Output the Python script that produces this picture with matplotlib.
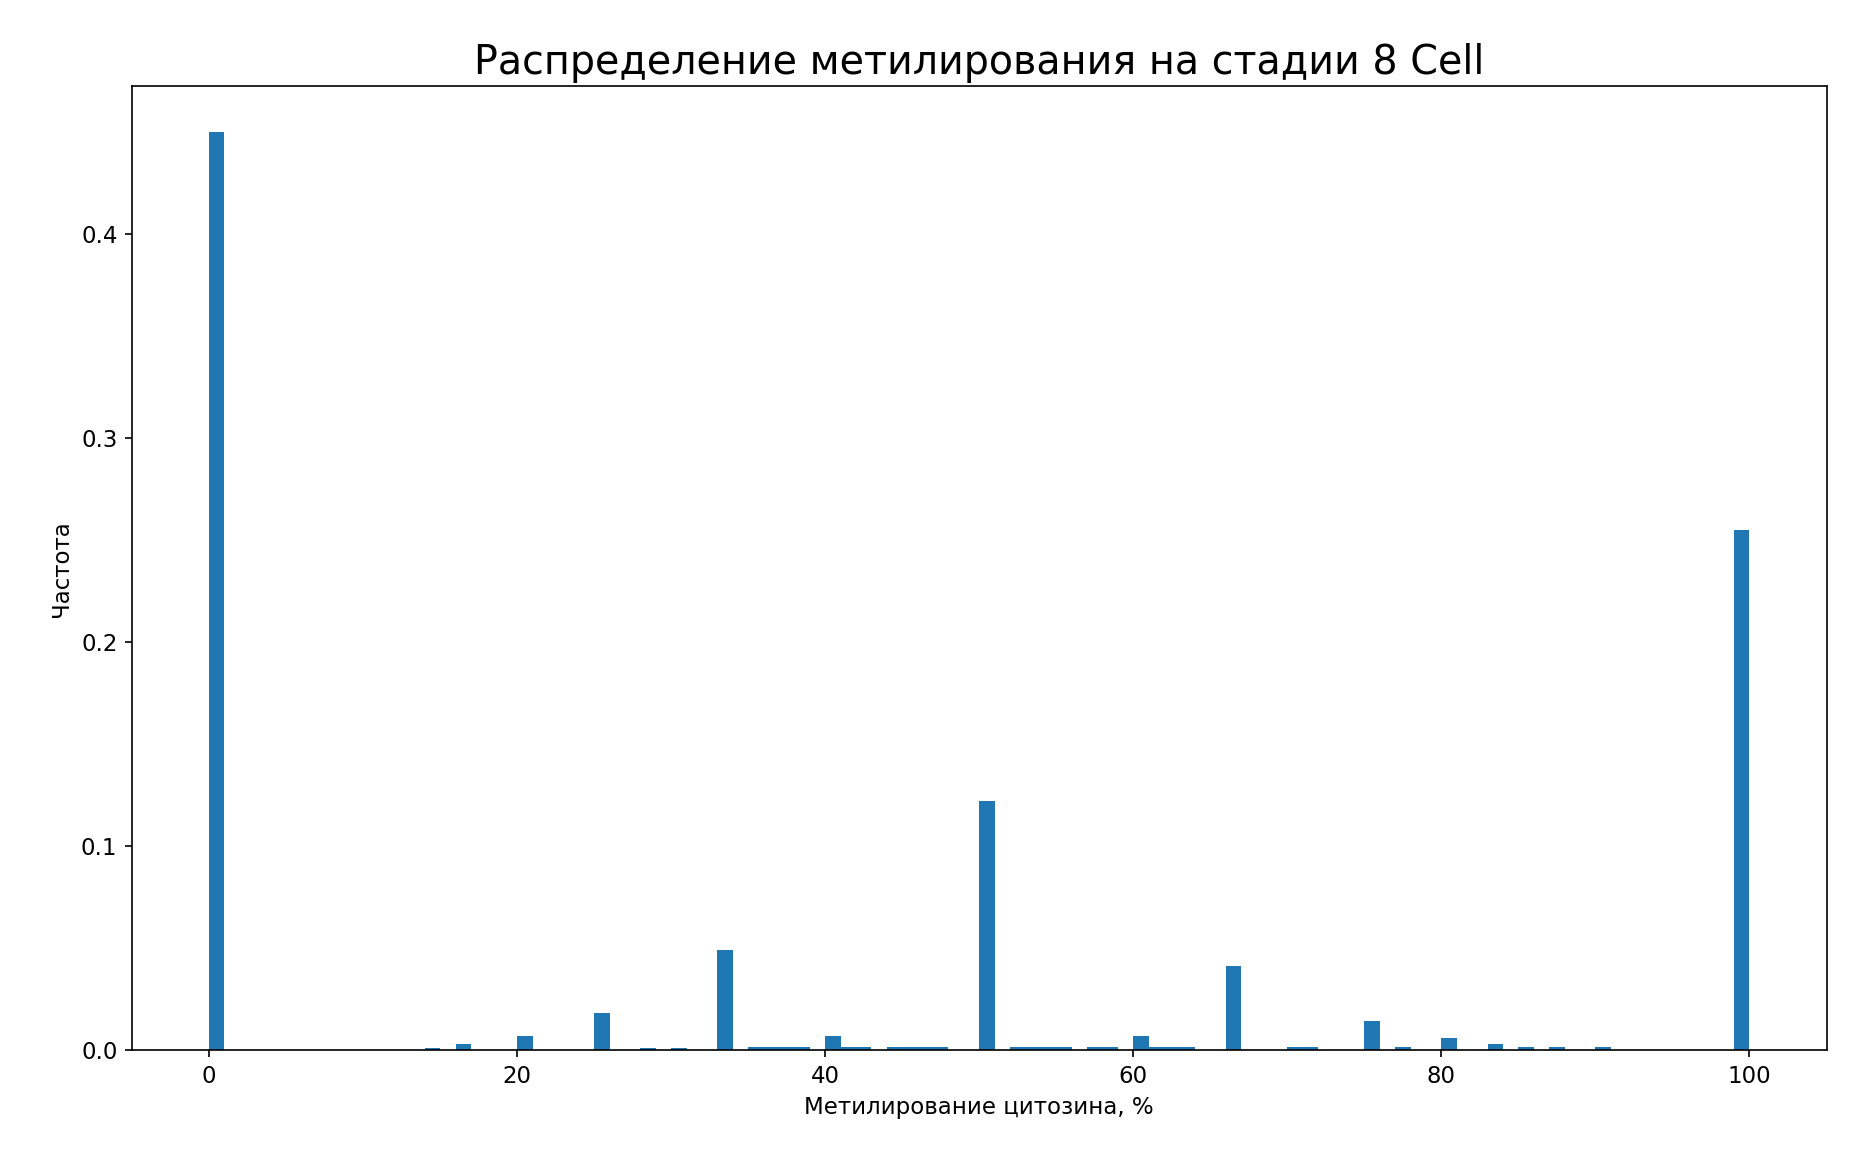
import matplotlib
matplotlib.use("Agg")
import matplotlib.pyplot as plt

bins = [0, 14, 16, 20, 25, 28, 30, 33, 35, 36, 37, 38, 40, 41, 42, 44, 45, 46, 47, 50,
        52, 53, 54, 55, 57, 58, 60, 61, 62, 63, 66, 70, 71, 75, 77, 80, 83, 85, 87, 90, 99]
freq = [0.450, 0.0012, 0.003, 0.007, 0.018, 0.0012, 0.0012, 0.049, 0.0013, 0.0013, 0.0013, 0.0013,
        0.007, 0.0013, 0.0013, 0.0013, 0.0013, 0.0013, 0.0013, 0.122,
        0.0013, 0.0013, 0.0013, 0.0013, 0.0013, 0.0013, 0.007, 0.0013, 0.0013, 0.0013, 0.041,
        0.0013, 0.0013, 0.014, 0.0013, 0.006, 0.003, 0.0013, 0.0013, 0.0013, 0.255]

fig = plt.figure(figsize=(12.4, 7.74), dpi=150)
ax = fig.add_axes([0.071, 0.0956, 0.911, 0.83])
ax.bar(bins, freq, width=1.0, align='edge', color='#1f77b4', linewidth=0)
ax.set_xlim(-5, 105)
ax.set_xticks([0, 20, 40, 60, 80, 100])
ax.set_yticks([0.0, 0.1, 0.2, 0.3, 0.4])
ax.tick_params(labelsize=11)
ax.set_title('Распределение метилирования на стадии 8 Cell', fontsize=19)
ax.set_xlabel('Метилирование цитозина, %', fontsize=11)
ax.set_ylabel('Частота', fontsize=11)
fig.savefig('out.png', dpi=150)
